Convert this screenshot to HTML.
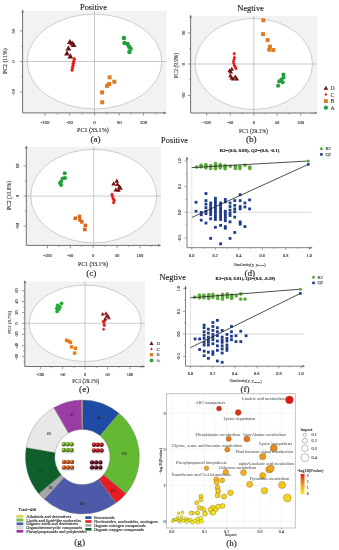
<!DOCTYPE html><html><head><meta charset="utf-8"><style>html,body{margin:0;padding:0;background:#fff;}svg{display:block;will-change:transform;}</style></head><body>
<svg width="339" height="550" viewBox="0 0 339 550" font-family='"Liberation Serif", serif'>
<rect width="339" height="550" fill="#fff"/>
<text x="93.5" y="7.0" font-size="8.4" text-anchor="middle" dominant-baseline="central" fill="#222" stroke="#222" stroke-width="0.140" >Positive</text>
<rect x="22.6" y="10.8" width="143.8" height="102.10000000000001" fill="#f2f2f2"/>
<ellipse cx="94.5" cy="61.5" rx="67.3" ry="47.4" fill="#fff" stroke="#bdbdbd" stroke-width="0.75"/>
<line x1="94.5" y1="10.8" x2="94.5" y2="112.9" stroke="#a8a8a8" stroke-width="0.6"/>
<line x1="22.6" y1="61.5" x2="166.4" y2="61.5" stroke="#a8a8a8" stroke-width="0.6"/>
<line x1="22.6" y1="112.9" x2="22.6" y2="10.3" stroke="#707070" stroke-width="1.0"/>
<polygon points="21.3,12.600000000000001 23.900000000000002,12.600000000000001 22.6,9.600000000000001" fill="#707070"/>
<line x1="22.6" y1="112.9" x2="164.9" y2="112.9" stroke="#707070" stroke-width="1.0"/>
<polygon points="163.6,111.60000000000001 163.6,114.2 166.6,112.9" fill="#707070"/>
<line x1="19.8" y1="30.9" x2="22.6" y2="30.9" stroke="#707070" stroke-width="0.7"/>
<line x1="19.8" y1="61.5" x2="22.6" y2="61.5" stroke="#707070" stroke-width="0.7"/>
<line x1="19.8" y1="92.1" x2="22.6" y2="92.1" stroke="#707070" stroke-width="0.7"/>
<line x1="21.0" y1="46.2" x2="22.6" y2="46.2" stroke="#707070" stroke-width="0.6"/>
<line x1="21.0" y1="76.8" x2="22.6" y2="76.8" stroke="#707070" stroke-width="0.6"/>
<line x1="45" y1="112.9" x2="45" y2="115.7" stroke="#707070" stroke-width="0.7"/>
<line x1="69.6" y1="112.9" x2="69.6" y2="115.7" stroke="#707070" stroke-width="0.7"/>
<line x1="94.6" y1="112.9" x2="94.6" y2="115.7" stroke="#707070" stroke-width="0.7"/>
<line x1="119.2" y1="112.9" x2="119.2" y2="115.7" stroke="#707070" stroke-width="0.7"/>
<line x1="143.6" y1="112.9" x2="143.6" y2="115.7" stroke="#707070" stroke-width="0.7"/>
<line x1="57.3" y1="112.9" x2="57.3" y2="114.5" stroke="#707070" stroke-width="0.6"/>
<line x1="82.1" y1="112.9" x2="82.1" y2="114.5" stroke="#707070" stroke-width="0.6"/>
<line x1="106.9" y1="112.9" x2="106.9" y2="114.5" stroke="#707070" stroke-width="0.6"/>
<line x1="131.4" y1="112.9" x2="131.4" y2="114.5" stroke="#707070" stroke-width="0.6"/>
<line x1="155.8" y1="112.9" x2="155.8" y2="114.5" stroke="#707070" stroke-width="0.6"/>
<text x="13.8" y="30.9" font-size="5.0" text-anchor="middle" dominant-baseline="central" transform="rotate(-90 13.8 30.9)" fill="#333" stroke="#333" stroke-width="0.110" >50</text>
<text x="13.8" y="61.5" font-size="5.0" text-anchor="middle" dominant-baseline="central" transform="rotate(-90 13.8 61.5)" fill="#333" stroke="#333" stroke-width="0.110" >0</text>
<text x="13.8" y="92.1" font-size="5.0" text-anchor="middle" dominant-baseline="central" transform="rotate(-90 13.8 92.1)" fill="#333" stroke="#333" stroke-width="0.110" >-50</text>
<text x="45" y="122.2" font-size="5.0" text-anchor="middle" dominant-baseline="central" fill="#333" stroke="#333" stroke-width="0.110" >-100</text>
<text x="69.6" y="122.2" font-size="5.0" text-anchor="middle" dominant-baseline="central" fill="#333" stroke="#333" stroke-width="0.110" >-50</text>
<text x="94.6" y="122.2" font-size="5.0" text-anchor="middle" dominant-baseline="central" fill="#333" stroke="#333" stroke-width="0.110" >0</text>
<text x="119.2" y="122.2" font-size="5.0" text-anchor="middle" dominant-baseline="central" fill="#333" stroke="#333" stroke-width="0.110" >50</text>
<text x="143.6" y="122.2" font-size="5.0" text-anchor="middle" dominant-baseline="central" fill="#333" stroke="#333" stroke-width="0.110" >100</text>
<text x="5.2" y="61.2" font-size="5.75" text-anchor="middle" dominant-baseline="central" transform="rotate(-90 5.2 61.2)" fill="#333" stroke="#333" stroke-width="0.127" >PC2 (11%)</text>
<text x="92.9" y="129.6" font-size="6.07" text-anchor="middle" dominant-baseline="central" fill="#333" stroke="#333" stroke-width="0.134" >PC1 (33.1%)</text>
<text x="95.6" y="139.4" font-size="9.2" text-anchor="middle" dominant-baseline="central" fill="#222" stroke="#222" stroke-width="0.140" >(a)</text>
<polygon points="67.00,44.11 72.80,44.11 69.90,38.89" fill="#6d1111"/>
<polygon points="70.70,46.91 76.50,46.91 73.60,41.69" fill="#6d1111"/>
<polygon points="65.50,50.61 71.30,50.61 68.40,45.39" fill="#6d1111"/>
<polygon points="64.10,55.51 69.90,55.51 67.00,50.29" fill="#6d1111"/>
<polygon points="67.50,58.41 73.30,58.41 70.40,53.19" fill="#6d1111"/>
<polygon points="69.30,45.61 75.10,45.61 72.20,40.39" fill="#6d1111"/>
<polygon points="74.30,56.80 76.28,59.00 74.30,61.20 72.32,59.00" fill="#e41a1c"/>
<polygon points="73.80,59.10 75.78,61.30 73.80,63.50 71.82,61.30" fill="#e41a1c"/>
<polygon points="73.30,61.30 75.28,63.50 73.30,65.70 71.32,63.50" fill="#e41a1c"/>
<polygon points="73.00,63.40 74.98,65.60 73.00,67.80 71.02,65.60" fill="#e41a1c"/>
<polygon points="72.50,65.60 74.48,67.80 72.50,70.00 70.52,67.80" fill="#e41a1c"/>
<polygon points="72.10,67.90 74.08,70.10 72.10,72.30 70.12,70.10" fill="#e41a1c"/>
<rect x="107.60" y="75.30" width="4.0" height="4.0" fill="#e07a1f"/>
<rect x="112.30" y="79.70" width="4.0" height="4.0" fill="#e07a1f"/>
<rect x="107.20" y="82.00" width="4.0" height="4.0" fill="#e07a1f"/>
<rect x="105.00" y="83.80" width="4.0" height="4.0" fill="#e07a1f"/>
<rect x="100.10" y="90.40" width="4.0" height="4.0" fill="#e07a1f"/>
<rect x="100.20" y="100.30" width="4.0" height="4.0" fill="#e07a1f"/>
<circle cx="123.90" cy="37.90" r="2.25" fill="#22a03a"/>
<circle cx="124.50" cy="43.10" r="2.25" fill="#22a03a"/>
<circle cx="127.60" cy="44.10" r="2.25" fill="#22a03a"/>
<circle cx="129.10" cy="46.70" r="2.25" fill="#22a03a"/>
<circle cx="130.60" cy="48.70" r="2.25" fill="#22a03a"/>
<circle cx="129.40" cy="52.00" r="2.25" fill="#22a03a"/>
<text x="250.6" y="8.3" font-size="8.4" text-anchor="middle" dominant-baseline="central" fill="#222" stroke="#222" stroke-width="0.140" >Negtive</text>
<rect x="190.6" y="16" width="126.79999999999998" height="97" fill="#f2f2f2"/>
<ellipse cx="253.8" cy="64" rx="58.7" ry="45.5" fill="#fff" stroke="#bdbdbd" stroke-width="0.75"/>
<line x1="253.8" y1="16" x2="253.8" y2="113" stroke="#a8a8a8" stroke-width="0.6"/>
<line x1="190.6" y1="64" x2="317.4" y2="64" stroke="#a8a8a8" stroke-width="0.6"/>
<line x1="190.6" y1="113" x2="190.6" y2="15.5" stroke="#707070" stroke-width="1.0"/>
<polygon points="189.29999999999998,17.8 191.9,17.8 190.6,14.8" fill="#707070"/>
<line x1="190.6" y1="113" x2="315.9" y2="113" stroke="#707070" stroke-width="1.0"/>
<polygon points="314.59999999999997,111.7 314.59999999999997,114.3 317.59999999999997,113" fill="#707070"/>
<line x1="187.79999999999998" y1="33" x2="190.6" y2="33" stroke="#707070" stroke-width="0.7"/>
<line x1="187.79999999999998" y1="64" x2="190.6" y2="64" stroke="#707070" stroke-width="0.7"/>
<line x1="187.79999999999998" y1="95.4" x2="190.6" y2="95.4" stroke="#707070" stroke-width="0.7"/>
<line x1="189.0" y1="48.6" x2="190.6" y2="48.6" stroke="#707070" stroke-width="0.6"/>
<line x1="189.0" y1="79.6" x2="190.6" y2="79.6" stroke="#707070" stroke-width="0.6"/>
<line x1="206.7" y1="113" x2="206.7" y2="115.8" stroke="#707070" stroke-width="0.7"/>
<line x1="230.3" y1="113" x2="230.3" y2="115.8" stroke="#707070" stroke-width="0.7"/>
<line x1="253.9" y1="113" x2="253.9" y2="115.8" stroke="#707070" stroke-width="0.7"/>
<line x1="277" y1="113" x2="277" y2="115.8" stroke="#707070" stroke-width="0.7"/>
<line x1="300.7" y1="113" x2="300.7" y2="115.8" stroke="#707070" stroke-width="0.7"/>
<line x1="218.5" y1="113" x2="218.5" y2="114.6" stroke="#707070" stroke-width="0.6"/>
<line x1="242.1" y1="113" x2="242.1" y2="114.6" stroke="#707070" stroke-width="0.6"/>
<line x1="265.5" y1="113" x2="265.5" y2="114.6" stroke="#707070" stroke-width="0.6"/>
<line x1="288.9" y1="113" x2="288.9" y2="114.6" stroke="#707070" stroke-width="0.6"/>
<line x1="312" y1="113" x2="312" y2="114.6" stroke="#707070" stroke-width="0.6"/>
<text x="183.4" y="33" font-size="4.6" text-anchor="middle" dominant-baseline="central" transform="rotate(-90 183.4 33)" fill="#333" stroke="#333" stroke-width="0.101" >50</text>
<text x="183.4" y="64" font-size="4.6" text-anchor="middle" dominant-baseline="central" transform="rotate(-90 183.4 64)" fill="#333" stroke="#333" stroke-width="0.101" >0</text>
<text x="183.4" y="95.4" font-size="4.6" text-anchor="middle" dominant-baseline="central" transform="rotate(-90 183.4 95.4)" fill="#333" stroke="#333" stroke-width="0.101" >-50</text>
<text x="206.7" y="122.5" font-size="4.6" text-anchor="middle" dominant-baseline="central" fill="#333" stroke="#333" stroke-width="0.101" >-100</text>
<text x="230.3" y="122.5" font-size="4.6" text-anchor="middle" dominant-baseline="central" fill="#333" stroke="#333" stroke-width="0.101" >-50</text>
<text x="253.9" y="122.5" font-size="4.6" text-anchor="middle" dominant-baseline="central" fill="#333" stroke="#333" stroke-width="0.101" >0</text>
<text x="277" y="122.5" font-size="4.6" text-anchor="middle" dominant-baseline="central" fill="#333" stroke="#333" stroke-width="0.101" >50</text>
<text x="300.7" y="122.5" font-size="4.6" text-anchor="middle" dominant-baseline="central" fill="#333" stroke="#333" stroke-width="0.101" >100</text>
<text x="176.4" y="65.5" font-size="5.3" text-anchor="middle" dominant-baseline="central" transform="rotate(-90 176.4 65.5)" fill="#333" stroke="#333" stroke-width="0.117" >PC2 (9.9%)</text>
<text x="253.5" y="130.6" font-size="5.55" text-anchor="middle" dominant-baseline="central" fill="#333" stroke="#333" stroke-width="0.122" >PC1 (29.1%)</text>
<text x="251.3" y="138.9" font-size="9.2" text-anchor="middle" dominant-baseline="central" fill="#222" stroke="#222" stroke-width="0.140" >(b)</text>
<rect x="261.35" y="18.35" width="3.9" height="3.9" fill="#e07a1f"/>
<rect x="261.05" y="32.15" width="3.9" height="3.9" fill="#e07a1f"/>
<rect x="265.75" y="38.05" width="3.9" height="3.9" fill="#e07a1f"/>
<rect x="268.05" y="44.65" width="3.9" height="3.9" fill="#e07a1f"/>
<rect x="267.25" y="47.65" width="3.9" height="3.9" fill="#e07a1f"/>
<rect x="271.35" y="48.05" width="3.9" height="3.9" fill="#e07a1f"/>
<circle cx="283.40" cy="74.60" r="2.05" fill="#22a03a"/>
<circle cx="283.60" cy="77.40" r="2.05" fill="#22a03a"/>
<circle cx="281.40" cy="79.60" r="2.05" fill="#22a03a"/>
<circle cx="279.20" cy="81.40" r="2.05" fill="#22a03a"/>
<circle cx="282.70" cy="82.30" r="2.05" fill="#22a03a"/>
<circle cx="278.10" cy="85.80" r="2.05" fill="#22a03a"/>
<polygon points="234.20,51.85 235.95,53.80 234.20,55.75 232.44,53.80" fill="#e41a1c"/>
<polygon points="234.40,55.65 236.16,57.60 234.40,59.55 232.65,57.60" fill="#e41a1c"/>
<polygon points="234.00,57.65 235.75,59.60 234.00,61.55 232.25,59.60" fill="#e41a1c"/>
<polygon points="233.40,59.65 235.16,61.60 233.40,63.55 231.65,61.60" fill="#e41a1c"/>
<polygon points="233.80,61.65 235.56,63.60 233.80,65.55 232.05,63.60" fill="#e41a1c"/>
<polygon points="234.40,63.45 236.16,65.40 234.40,67.35 232.65,65.40" fill="#e41a1c"/>
<polygon points="235.20,65.05 236.95,67.00 235.20,68.95 233.44,67.00" fill="#e41a1c"/>
<polygon points="236.00,66.65 237.75,68.60 236.00,70.55 234.25,68.60" fill="#e41a1c"/>
<polygon points="227.40,72.18 231.80,72.18 229.60,68.22" fill="#6d1111"/>
<polygon points="229.60,70.78 234.00,70.78 231.80,66.82" fill="#6d1111"/>
<polygon points="228.60,73.38 233.00,73.38 230.80,69.42" fill="#6d1111"/>
<polygon points="228.20,77.18 232.60,77.18 230.40,73.22" fill="#6d1111"/>
<polygon points="229.40,79.58 233.80,79.58 231.60,75.62" fill="#6d1111"/>
<polygon points="231.00,80.38 235.40,80.38 233.20,76.42" fill="#6d1111"/>
<polygon points="233.20,78.58 237.60,78.58 235.40,74.62" fill="#6d1111"/>
<polygon points="234.60,80.58 239.00,80.58 236.80,76.62" fill="#6d1111"/>
<polygon points="323.60,89.87 328.20,89.87 325.90,85.73" fill="#6d1111"/>
<polygon points="325.90,92.90 327.34,94.50 325.90,96.10 324.46,94.50" fill="#e41a1c"/>
<rect x="324.00" y="99.20" width="3.8" height="3.8" fill="#e07a1f"/>
<circle cx="325.90" cy="107.70" r="2.10" fill="#22a03a"/>
<text x="330.5" y="87.8" font-size="5.8" text-anchor="start" dominant-baseline="central" fill="#444" stroke="#444" stroke-width="0.128" >D</text>
<text x="330.5" y="94.5" font-size="5.8" text-anchor="start" dominant-baseline="central" fill="#444" stroke="#444" stroke-width="0.128" >C</text>
<text x="330.5" y="101.1" font-size="5.8" text-anchor="start" dominant-baseline="central" fill="#444" stroke="#444" stroke-width="0.128" >B</text>
<text x="330.5" y="107.7" font-size="5.8" text-anchor="start" dominant-baseline="central" fill="#444" stroke="#444" stroke-width="0.128" >A</text>
<rect x="26.3" y="146.8" width="134.7" height="98.6" fill="#f2f2f2"/>
<ellipse cx="93.7" cy="196.1" rx="63.0" ry="46.8" fill="#fff" stroke="#bdbdbd" stroke-width="0.75"/>
<line x1="93.7" y1="146.8" x2="93.7" y2="245.4" stroke="#a8a8a8" stroke-width="0.6"/>
<line x1="26.3" y1="196.1" x2="161" y2="196.1" stroke="#a8a8a8" stroke-width="0.6"/>
<line x1="26.3" y1="245.4" x2="26.3" y2="146.3" stroke="#707070" stroke-width="1.0"/>
<polygon points="25.0,148.60000000000002 27.6,148.60000000000002 26.3,145.60000000000002" fill="#707070"/>
<line x1="26.3" y1="245.4" x2="159.5" y2="245.4" stroke="#707070" stroke-width="1.0"/>
<polygon points="158.2,244.1 158.2,246.70000000000002 161.2,245.4" fill="#707070"/>
<line x1="23.5" y1="166" x2="26.3" y2="166" stroke="#707070" stroke-width="0.7"/>
<line x1="23.5" y1="196.1" x2="26.3" y2="196.1" stroke="#707070" stroke-width="0.7"/>
<line x1="23.5" y1="226" x2="26.3" y2="226" stroke="#707070" stroke-width="0.7"/>
<line x1="24.7" y1="181" x2="26.3" y2="181" stroke="#707070" stroke-width="0.6"/>
<line x1="24.7" y1="211.3" x2="26.3" y2="211.3" stroke="#707070" stroke-width="0.6"/>
<line x1="47.5" y1="245.4" x2="47.5" y2="248.20000000000002" stroke="#707070" stroke-width="0.7"/>
<line x1="70.3" y1="245.4" x2="70.3" y2="248.20000000000002" stroke="#707070" stroke-width="0.7"/>
<line x1="93.1" y1="245.4" x2="93.1" y2="248.20000000000002" stroke="#707070" stroke-width="0.7"/>
<line x1="117.1" y1="245.4" x2="117.1" y2="248.20000000000002" stroke="#707070" stroke-width="0.7"/>
<line x1="139.9" y1="245.4" x2="139.9" y2="248.20000000000002" stroke="#707070" stroke-width="0.7"/>
<line x1="58.9" y1="245.4" x2="58.9" y2="247.0" stroke="#707070" stroke-width="0.6"/>
<line x1="81.7" y1="245.4" x2="81.7" y2="247.0" stroke="#707070" stroke-width="0.6"/>
<line x1="105.1" y1="245.4" x2="105.1" y2="247.0" stroke="#707070" stroke-width="0.6"/>
<line x1="128.5" y1="245.4" x2="128.5" y2="247.0" stroke="#707070" stroke-width="0.6"/>
<line x1="151.3" y1="245.4" x2="151.3" y2="247.0" stroke="#707070" stroke-width="0.6"/>
<text x="17.5" y="166" font-size="4.7" text-anchor="middle" dominant-baseline="central" transform="rotate(-90 17.5 166)" fill="#333" stroke="#333" stroke-width="0.103" >50</text>
<text x="17.5" y="196.1" font-size="4.7" text-anchor="middle" dominant-baseline="central" transform="rotate(-90 17.5 196.1)" fill="#333" stroke="#333" stroke-width="0.103" >0</text>
<text x="17.5" y="226" font-size="4.7" text-anchor="middle" dominant-baseline="central" transform="rotate(-90 17.5 226)" fill="#333" stroke="#333" stroke-width="0.103" >-50</text>
<text x="47.5" y="255.5" font-size="4.7" text-anchor="middle" dominant-baseline="central" fill="#333" stroke="#333" stroke-width="0.103" >-100</text>
<text x="70.3" y="255.5" font-size="4.7" text-anchor="middle" dominant-baseline="central" fill="#333" stroke="#333" stroke-width="0.103" >-50</text>
<text x="93.1" y="255.5" font-size="4.7" text-anchor="middle" dominant-baseline="central" fill="#333" stroke="#333" stroke-width="0.103" >0</text>
<text x="117.1" y="255.5" font-size="4.7" text-anchor="middle" dominant-baseline="central" fill="#333" stroke="#333" stroke-width="0.103" >50</text>
<text x="139.9" y="255.5" font-size="4.7" text-anchor="middle" dominant-baseline="central" fill="#333" stroke="#333" stroke-width="0.103" >100</text>
<text x="8.7" y="195.5" font-size="5.55" text-anchor="middle" dominant-baseline="central" transform="rotate(-90 8.7 195.5)" fill="#333" stroke="#333" stroke-width="0.122" >PC2 (10.9%)</text>
<text x="93.1" y="263.9" font-size="5.82" text-anchor="middle" dominant-baseline="central" fill="#333" stroke="#333" stroke-width="0.128" >PC1 (33.1%)</text>
<text x="91.3" y="273.2" font-size="9.2" text-anchor="middle" dominant-baseline="central" fill="#222" stroke="#222" stroke-width="0.140" >(c)</text>
<circle cx="64.70" cy="173.30" r="2.00" fill="#22a03a"/>
<circle cx="65.00" cy="178.00" r="2.00" fill="#22a03a"/>
<circle cx="62.50" cy="178.40" r="2.00" fill="#22a03a"/>
<circle cx="61.10" cy="181.40" r="2.00" fill="#22a03a"/>
<circle cx="60.00" cy="182.90" r="2.00" fill="#22a03a"/>
<circle cx="61.10" cy="185.10" r="2.00" fill="#22a03a"/>
<polygon points="114.50,182.67 119.10,182.67 116.80,178.53" fill="#7a1212"/>
<polygon points="111.30,185.47 115.90,185.47 113.60,181.33" fill="#7a1212"/>
<polygon points="115.10,186.07 119.70,186.07 117.40,181.93" fill="#7a1212"/>
<polygon points="117.10,188.47 121.70,188.47 119.40,184.33" fill="#7a1212"/>
<polygon points="118.10,189.67 122.70,189.67 120.40,185.53" fill="#7a1212"/>
<polygon points="113.50,191.47 118.10,191.47 115.80,187.33" fill="#7a1212"/>
<polygon points="116.10,191.67 120.70,191.67 118.40,187.53" fill="#7a1212"/>
<polygon points="112.00,192.50 113.89,194.60 112.00,196.70 110.11,194.60" fill="#e8201c"/>
<polygon points="112.60,194.50 114.49,196.60 112.60,198.70 110.71,196.60" fill="#e8201c"/>
<polygon points="113.20,196.70 115.09,198.80 113.20,200.90 111.31,198.80" fill="#e8201c"/>
<polygon points="114.20,198.30 116.09,200.40 114.20,202.50 112.31,200.40" fill="#e8201c"/>
<polygon points="113.60,200.50 115.49,202.60 113.60,204.70 111.71,202.60" fill="#e8201c"/>
<rect x="73.50" y="216.50" width="3.6" height="3.6" fill="#d9691c"/>
<rect x="77.70" y="214.70" width="3.6" height="3.6" fill="#d9691c"/>
<rect x="78.20" y="218.20" width="3.6" height="3.6" fill="#d9691c"/>
<rect x="80.00" y="220.00" width="3.6" height="3.6" fill="#d9691c"/>
<rect x="83.60" y="223.60" width="3.6" height="3.6" fill="#d9691c"/>
<rect x="83.00" y="227.70" width="3.6" height="3.6" fill="#d9691c"/>
<rect x="24.8" y="281.4" width="120.2" height="85.10000000000002" fill="#f2f2f2"/>
<ellipse cx="85.1" cy="323.3" rx="56" ry="38.2" fill="#fff" stroke="#bdbdbd" stroke-width="0.75"/>
<line x1="85.1" y1="281.4" x2="85.1" y2="366.5" stroke="#a8a8a8" stroke-width="0.6"/>
<line x1="24.8" y1="323.3" x2="145" y2="323.3" stroke="#a8a8a8" stroke-width="0.6"/>
<line x1="24.8" y1="366.5" x2="24.8" y2="280.9" stroke="#707070" stroke-width="1.0"/>
<polygon points="23.5,283.2 26.1,283.2 24.8,280.2" fill="#707070"/>
<line x1="24.8" y1="366.5" x2="143.5" y2="366.5" stroke="#707070" stroke-width="1.0"/>
<polygon points="142.2,365.2 142.2,367.8 145.2,366.5" fill="#707070"/>
<line x1="22.0" y1="290.6" x2="24.8" y2="290.6" stroke="#707070" stroke-width="0.7"/>
<line x1="22.0" y1="301.5" x2="24.8" y2="301.5" stroke="#707070" stroke-width="0.7"/>
<line x1="22.0" y1="312.5" x2="24.8" y2="312.5" stroke="#707070" stroke-width="0.7"/>
<line x1="22.0" y1="323.3" x2="24.8" y2="323.3" stroke="#707070" stroke-width="0.7"/>
<line x1="22.0" y1="334.2" x2="24.8" y2="334.2" stroke="#707070" stroke-width="0.7"/>
<line x1="22.0" y1="345.7" x2="24.8" y2="345.7" stroke="#707070" stroke-width="0.7"/>
<line x1="22.0" y1="356.6" x2="24.8" y2="356.6" stroke="#707070" stroke-width="0.7"/>
<line x1="23.2" y1="296" x2="24.8" y2="296" stroke="#707070" stroke-width="0.6"/>
<line x1="23.2" y1="307" x2="24.8" y2="307" stroke="#707070" stroke-width="0.6"/>
<line x1="23.2" y1="317.9" x2="24.8" y2="317.9" stroke="#707070" stroke-width="0.6"/>
<line x1="23.2" y1="328.7" x2="24.8" y2="328.7" stroke="#707070" stroke-width="0.6"/>
<line x1="23.2" y1="339.9" x2="24.8" y2="339.9" stroke="#707070" stroke-width="0.6"/>
<line x1="23.2" y1="351.1" x2="24.8" y2="351.1" stroke="#707070" stroke-width="0.6"/>
<line x1="23.2" y1="362" x2="24.8" y2="362" stroke="#707070" stroke-width="0.6"/>
<line x1="40.3" y1="366.5" x2="40.3" y2="369.3" stroke="#707070" stroke-width="0.7"/>
<line x1="62.6" y1="366.5" x2="62.6" y2="369.3" stroke="#707070" stroke-width="0.7"/>
<line x1="85.2" y1="366.5" x2="85.2" y2="369.3" stroke="#707070" stroke-width="0.7"/>
<line x1="107.6" y1="366.5" x2="107.6" y2="369.3" stroke="#707070" stroke-width="0.7"/>
<line x1="130" y1="366.5" x2="130" y2="369.3" stroke="#707070" stroke-width="0.7"/>
<line x1="51.4" y1="366.5" x2="51.4" y2="368.1" stroke="#707070" stroke-width="0.6"/>
<line x1="73.9" y1="366.5" x2="73.9" y2="368.1" stroke="#707070" stroke-width="0.6"/>
<line x1="96.4" y1="366.5" x2="96.4" y2="368.1" stroke="#707070" stroke-width="0.6"/>
<line x1="118.8" y1="366.5" x2="118.8" y2="368.1" stroke="#707070" stroke-width="0.6"/>
<line x1="141" y1="366.5" x2="141" y2="368.1" stroke="#707070" stroke-width="0.6"/>
<text x="16.8" y="290.6" font-size="4.3" text-anchor="middle" dominant-baseline="central" transform="rotate(-90 16.8 290.6)" fill="#333" stroke="#333" stroke-width="0.095" >60</text>
<text x="16.8" y="301.5" font-size="4.3" text-anchor="middle" dominant-baseline="central" transform="rotate(-90 16.8 301.5)" fill="#333" stroke="#333" stroke-width="0.095" >40</text>
<text x="16.8" y="312.5" font-size="4.3" text-anchor="middle" dominant-baseline="central" transform="rotate(-90 16.8 312.5)" fill="#333" stroke="#333" stroke-width="0.095" >20</text>
<text x="16.8" y="323.3" font-size="4.3" text-anchor="middle" dominant-baseline="central" transform="rotate(-90 16.8 323.3)" fill="#333" stroke="#333" stroke-width="0.095" >0</text>
<text x="16.8" y="334.2" font-size="4.3" text-anchor="middle" dominant-baseline="central" transform="rotate(-90 16.8 334.2)" fill="#333" stroke="#333" stroke-width="0.095" >-20</text>
<text x="16.8" y="345.7" font-size="4.3" text-anchor="middle" dominant-baseline="central" transform="rotate(-90 16.8 345.7)" fill="#333" stroke="#333" stroke-width="0.095" >-40</text>
<text x="16.8" y="356.6" font-size="4.3" text-anchor="middle" dominant-baseline="central" transform="rotate(-90 16.8 356.6)" fill="#333" stroke="#333" stroke-width="0.095" >-60</text>
<text x="40.3" y="374.5" font-size="4.3" text-anchor="middle" dominant-baseline="central" fill="#333" stroke="#333" stroke-width="0.095" >-100</text>
<text x="62.6" y="374.5" font-size="4.3" text-anchor="middle" dominant-baseline="central" fill="#333" stroke="#333" stroke-width="0.095" >-50</text>
<text x="85.2" y="374.5" font-size="4.3" text-anchor="middle" dominant-baseline="central" fill="#333" stroke="#333" stroke-width="0.095" >0</text>
<text x="107.6" y="374.5" font-size="4.3" text-anchor="middle" dominant-baseline="central" fill="#333" stroke="#333" stroke-width="0.095" >50</text>
<text x="130" y="374.5" font-size="4.3" text-anchor="middle" dominant-baseline="central" fill="#333" stroke="#333" stroke-width="0.095" >100</text>
<text x="10.0" y="322.3" font-size="4.85" text-anchor="middle" dominant-baseline="central" transform="rotate(-90 10.0 322.3)" fill="#333" stroke="#333" stroke-width="0.107" >PC2 (9.7%)</text>
<text x="85.8" y="381.0" font-size="5.15" text-anchor="middle" dominant-baseline="central" fill="#333" stroke="#333" stroke-width="0.113" >PC1 (29.1%)</text>
<text x="84.2" y="388.8" font-size="9.2" text-anchor="middle" dominant-baseline="central" fill="#222" stroke="#222" stroke-width="0.140" >(e)</text>
<circle cx="61.50" cy="303.30" r="1.85" fill="#1fae33"/>
<circle cx="57.70" cy="305.30" r="1.85" fill="#1fae33"/>
<circle cx="60.00" cy="306.80" r="1.85" fill="#1fae33"/>
<circle cx="56.80" cy="308.30" r="1.85" fill="#1fae33"/>
<circle cx="58.80" cy="309.20" r="1.85" fill="#1fae33"/>
<circle cx="57.10" cy="311.50" r="1.85" fill="#1fae33"/>
<polygon points="100.75,315.56 104.65,315.56 102.70,312.05" fill="#8a1a1a"/>
<polygon points="103.95,314.75 107.85,314.75 105.90,311.25" fill="#8a1a1a"/>
<polygon points="105.75,317.06 109.65,317.06 107.70,313.55" fill="#8a1a1a"/>
<polygon points="106.95,319.15 110.85,319.15 108.90,315.64" fill="#8a1a1a"/>
<polygon points="103.35,320.36 107.25,320.36 105.30,316.85" fill="#8a1a1a"/>
<polygon points="102.75,321.45 106.65,321.45 104.70,317.94" fill="#8a1a1a"/>
<polygon points="104.55,317.75 108.45,317.75 106.50,314.25" fill="#8a1a1a"/>
<polygon points="103.00,319.80 104.53,321.50 103.00,323.20 101.47,321.50" fill="#e41a1c"/>
<polygon points="104.10,321.00 105.63,322.70 104.10,324.40 102.57,322.70" fill="#e41a1c"/>
<polygon points="103.80,323.30 105.33,325.00 103.80,326.70 102.27,325.00" fill="#e41a1c"/>
<polygon points="104.70,323.70 106.23,325.40 104.70,327.10 103.17,325.40" fill="#e41a1c"/>
<polygon points="103.60,327.50 105.13,329.20 103.60,330.90 102.07,329.20" fill="#e41a1c"/>
<rect x="64.90" y="338.60" width="3.4" height="3.4" fill="#f07a10"/>
<rect x="67.10" y="339.50" width="3.4" height="3.4" fill="#f07a10"/>
<rect x="68.70" y="340.80" width="3.4" height="3.4" fill="#f07a10"/>
<rect x="69.80" y="345.30" width="3.4" height="3.4" fill="#f07a10"/>
<rect x="73.80" y="346.60" width="3.4" height="3.4" fill="#f07a10"/>
<rect x="72.90" y="351.40" width="3.4" height="3.4" fill="#f07a10"/>
<polygon points="149.48,344.92 153.52,344.92 151.50,341.28" fill="#6d1111"/>
<polygon points="151.50,347.59 152.77,349.00 151.50,350.41 150.23,349.00" fill="#e41a1c"/>
<rect x="149.83" y="353.03" width="3.344" height="3.344" fill="#e07a1f"/>
<circle cx="151.50" cy="360.40" r="1.85" fill="#22a03a"/>
<text x="156.6" y="343.1" font-size="5.0" text-anchor="start" dominant-baseline="central" fill="#444" stroke="#444" stroke-width="0.110" >D</text>
<text x="156.6" y="349.0" font-size="5.0" text-anchor="start" dominant-baseline="central" fill="#444" stroke="#444" stroke-width="0.110" >C</text>
<text x="156.6" y="354.7" font-size="5.0" text-anchor="start" dominant-baseline="central" fill="#444" stroke="#444" stroke-width="0.110" >B</text>
<text x="156.6" y="360.4" font-size="5.0" text-anchor="start" dominant-baseline="central" fill="#444" stroke="#444" stroke-width="0.110" >A</text>
<line x1="191.8" y1="157.8" x2="191.8" y2="247.7" stroke="#c8c8c8" stroke-width="0.5"/>
<line x1="187" y1="212.2" x2="311.5" y2="212.2" stroke="#b8b8b8" stroke-width="0.5"/>
<line x1="187" y1="247.7" x2="187" y2="157.3" stroke="#707070" stroke-width="0.9"/>
<polygon points="185.7,159.60000000000002 188.3,159.60000000000002 187,156.60000000000002" fill="#707070"/>
<line x1="187" y1="247.7" x2="311.5" y2="247.7" stroke="#707070" stroke-width="0.9"/>
<polygon points="309.7,246.39999999999998 309.7,249.0 312.7,247.7" fill="#707070"/>
<line x1="184.5" y1="161" x2="187" y2="161" stroke="#707070" stroke-width="0.6"/>
<text x="179.7" y="161" font-size="4.1" text-anchor="middle" dominant-baseline="central" transform="rotate(-90 179.7 161)" fill="#333" stroke="#333" stroke-width="0.090" >1.0</text>
<line x1="184.5" y1="186.5" x2="187" y2="186.5" stroke="#707070" stroke-width="0.6"/>
<text x="179.7" y="186.5" font-size="4.1" text-anchor="middle" dominant-baseline="central" transform="rotate(-90 179.7 186.5)" fill="#333" stroke="#333" stroke-width="0.090" >0.5</text>
<line x1="184.5" y1="212.2" x2="187" y2="212.2" stroke="#707070" stroke-width="0.6"/>
<text x="179.7" y="212.2" font-size="4.1" text-anchor="middle" dominant-baseline="central" transform="rotate(-90 179.7 212.2)" fill="#333" stroke="#333" stroke-width="0.090" >0.0</text>
<line x1="184.5" y1="237.9" x2="187" y2="237.9" stroke="#707070" stroke-width="0.6"/>
<text x="179.7" y="237.9" font-size="4.1" text-anchor="middle" dominant-baseline="central" transform="rotate(-90 179.7 237.9)" fill="#333" stroke="#333" stroke-width="0.090" >-0.5</text>
<line x1="185.5" y1="173.75" x2="187" y2="173.75" stroke="#707070" stroke-width="0.5"/>
<line x1="185.5" y1="199.35" x2="187" y2="199.35" stroke="#707070" stroke-width="0.5"/>
<line x1="185.5" y1="225.05" x2="187" y2="225.05" stroke="#707070" stroke-width="0.5"/>
<line x1="191.8" y1="247.7" x2="191.8" y2="249.89999999999998" stroke="#707070" stroke-width="0.6"/>
<text x="191.8" y="255.6" font-size="4.3" text-anchor="middle" dominant-baseline="central" fill="#222" stroke="#222" stroke-width="0.095" >0.0</text>
<line x1="203.55" y1="247.7" x2="203.55" y2="249.0" stroke="#707070" stroke-width="0.5"/>
<line x1="215.3" y1="247.7" x2="215.3" y2="249.89999999999998" stroke="#707070" stroke-width="0.6"/>
<text x="215.3" y="255.6" font-size="4.3" text-anchor="middle" dominant-baseline="central" fill="#222" stroke="#222" stroke-width="0.095" >0.2</text>
<line x1="227.05" y1="247.7" x2="227.05" y2="249.0" stroke="#707070" stroke-width="0.5"/>
<line x1="238.8" y1="247.7" x2="238.8" y2="249.89999999999998" stroke="#707070" stroke-width="0.6"/>
<text x="238.8" y="255.6" font-size="4.3" text-anchor="middle" dominant-baseline="central" fill="#222" stroke="#222" stroke-width="0.095" >0.4</text>
<line x1="250.55" y1="247.7" x2="250.55" y2="249.0" stroke="#707070" stroke-width="0.5"/>
<line x1="262.3" y1="247.7" x2="262.3" y2="249.89999999999998" stroke="#707070" stroke-width="0.6"/>
<text x="262.3" y="255.6" font-size="4.3" text-anchor="middle" dominant-baseline="central" fill="#222" stroke="#222" stroke-width="0.095" >0.6</text>
<line x1="274.05" y1="247.7" x2="274.05" y2="249.0" stroke="#707070" stroke-width="0.5"/>
<line x1="285.8" y1="247.7" x2="285.8" y2="249.89999999999998" stroke="#707070" stroke-width="0.6"/>
<text x="285.8" y="255.6" font-size="4.3" text-anchor="middle" dominant-baseline="central" fill="#222" stroke="#222" stroke-width="0.095" >0.8</text>
<line x1="297.55" y1="247.7" x2="297.55" y2="249.0" stroke="#707070" stroke-width="0.5"/>
<line x1="309.3" y1="247.7" x2="309.3" y2="249.89999999999998" stroke="#707070" stroke-width="0.6"/>
<text x="309.3" y="255.6" font-size="4.3" text-anchor="middle" dominant-baseline="central" fill="#222" stroke="#222" stroke-width="0.095" >1.0</text>
<circle cx="196.70" cy="167.10" r="1.60" fill="#5aae35" stroke="#3f8a22" stroke-width="0.3"/>
<circle cx="201.10" cy="165.20" r="1.60" fill="#5aae35" stroke="#3f8a22" stroke-width="0.3"/>
<circle cx="201.10" cy="166.80" r="1.60" fill="#5aae35" stroke="#3f8a22" stroke-width="0.3"/>
<circle cx="205.90" cy="164.60" r="1.60" fill="#5aae35" stroke="#3f8a22" stroke-width="0.3"/>
<circle cx="205.90" cy="166.20" r="1.60" fill="#5aae35" stroke="#3f8a22" stroke-width="0.3"/>
<circle cx="205.90" cy="167.80" r="1.60" fill="#5aae35" stroke="#3f8a22" stroke-width="0.3"/>
<circle cx="210.70" cy="165.60" r="1.60" fill="#5aae35" stroke="#3f8a22" stroke-width="0.3"/>
<circle cx="210.70" cy="168.40" r="1.60" fill="#5aae35" stroke="#3f8a22" stroke-width="0.3"/>
<circle cx="215.50" cy="163.60" r="1.60" fill="#5aae35" stroke="#3f8a22" stroke-width="0.3"/>
<circle cx="215.50" cy="165.30" r="1.60" fill="#5aae35" stroke="#3f8a22" stroke-width="0.3"/>
<circle cx="215.50" cy="167.00" r="1.60" fill="#5aae35" stroke="#3f8a22" stroke-width="0.3"/>
<circle cx="215.50" cy="168.70" r="1.60" fill="#5aae35" stroke="#3f8a22" stroke-width="0.3"/>
<circle cx="220.30" cy="164.60" r="1.60" fill="#5aae35" stroke="#3f8a22" stroke-width="0.3"/>
<circle cx="220.30" cy="166.20" r="1.60" fill="#5aae35" stroke="#3f8a22" stroke-width="0.3"/>
<circle cx="220.30" cy="167.80" r="1.60" fill="#5aae35" stroke="#3f8a22" stroke-width="0.3"/>
<circle cx="225.10" cy="165.60" r="1.60" fill="#5aae35" stroke="#3f8a22" stroke-width="0.3"/>
<circle cx="225.10" cy="167.15" r="1.60" fill="#5aae35" stroke="#3f8a22" stroke-width="0.3"/>
<circle cx="225.10" cy="168.70" r="1.60" fill="#5aae35" stroke="#3f8a22" stroke-width="0.3"/>
<circle cx="230.30" cy="166.20" r="1.60" fill="#5aae35" stroke="#3f8a22" stroke-width="0.3"/>
<circle cx="235.40" cy="166.20" r="1.60" fill="#5aae35" stroke="#3f8a22" stroke-width="0.3"/>
<circle cx="235.40" cy="168.40" r="1.60" fill="#5aae35" stroke="#3f8a22" stroke-width="0.3"/>
<circle cx="239.90" cy="166.60" r="1.60" fill="#5aae35" stroke="#3f8a22" stroke-width="0.3"/>
<circle cx="239.90" cy="168.40" r="1.60" fill="#5aae35" stroke="#3f8a22" stroke-width="0.3"/>
<circle cx="245.00" cy="165.20" r="1.60" fill="#5aae35" stroke="#3f8a22" stroke-width="0.3"/>
<circle cx="249.80" cy="167.10" r="1.60" fill="#5aae35" stroke="#3f8a22" stroke-width="0.3"/>
<circle cx="249.80" cy="168.40" r="1.60" fill="#5aae35" stroke="#3f8a22" stroke-width="0.3"/>
<rect x="194.65" y="200.87" width="2.8" height="2.8" fill="#1f3c8c"/>
<rect x="194.65" y="209.84" width="2.8" height="2.8" fill="#1f3c8c"/>
<rect x="199.84" y="211.02" width="2.8" height="2.8" fill="#1f3c8c"/>
<rect x="199.84" y="213.38" width="2.8" height="2.8" fill="#1f3c8c"/>
<rect x="199.84" y="218.81" width="2.8" height="2.8" fill="#1f3c8c"/>
<rect x="204.56" y="192.14" width="2.8" height="2.8" fill="#1f3c8c"/>
<rect x="204.56" y="199.22" width="2.8" height="2.8" fill="#1f3c8c"/>
<rect x="204.56" y="202.76" width="2.8" height="2.8" fill="#1f3c8c"/>
<rect x="204.56" y="206.30" width="2.8" height="2.8" fill="#1f3c8c"/>
<rect x="204.56" y="209.84" width="2.8" height="2.8" fill="#1f3c8c"/>
<rect x="204.56" y="212.20" width="2.8" height="2.8" fill="#1f3c8c"/>
<rect x="204.56" y="221.64" width="2.8" height="2.8" fill="#1f3c8c"/>
<rect x="209.28" y="201.58" width="2.8" height="2.8" fill="#1f3c8c"/>
<rect x="209.28" y="203.94" width="2.8" height="2.8" fill="#1f3c8c"/>
<rect x="209.28" y="206.30" width="2.8" height="2.8" fill="#1f3c8c"/>
<rect x="209.28" y="208.66" width="2.8" height="2.8" fill="#1f3c8c"/>
<rect x="209.28" y="211.02" width="2.8" height="2.8" fill="#1f3c8c"/>
<rect x="209.28" y="213.38" width="2.8" height="2.8" fill="#1f3c8c"/>
<rect x="209.28" y="217.39" width="2.8" height="2.8" fill="#1f3c8c"/>
<rect x="209.28" y="236.98" width="2.8" height="2.8" fill="#1f3c8c"/>
<rect x="214.00" y="196.86" width="2.8" height="2.8" fill="#1f3c8c"/>
<rect x="214.00" y="199.22" width="2.8" height="2.8" fill="#1f3c8c"/>
<rect x="214.00" y="201.58" width="2.8" height="2.8" fill="#1f3c8c"/>
<rect x="214.00" y="203.94" width="2.8" height="2.8" fill="#1f3c8c"/>
<rect x="214.00" y="206.30" width="2.8" height="2.8" fill="#1f3c8c"/>
<rect x="214.00" y="208.66" width="2.8" height="2.8" fill="#1f3c8c"/>
<rect x="214.00" y="211.02" width="2.8" height="2.8" fill="#1f3c8c"/>
<rect x="214.00" y="213.38" width="2.8" height="2.8" fill="#1f3c8c"/>
<rect x="214.00" y="215.74" width="2.8" height="2.8" fill="#1f3c8c"/>
<rect x="214.00" y="218.10" width="2.8" height="2.8" fill="#1f3c8c"/>
<rect x="214.00" y="225.89" width="2.8" height="2.8" fill="#1f3c8c"/>
<rect x="219.19" y="201.58" width="2.8" height="2.8" fill="#1f3c8c"/>
<rect x="219.19" y="203.94" width="2.8" height="2.8" fill="#1f3c8c"/>
<rect x="219.19" y="206.30" width="2.8" height="2.8" fill="#1f3c8c"/>
<rect x="219.19" y="208.66" width="2.8" height="2.8" fill="#1f3c8c"/>
<rect x="219.19" y="211.02" width="2.8" height="2.8" fill="#1f3c8c"/>
<rect x="219.19" y="213.38" width="2.8" height="2.8" fill="#1f3c8c"/>
<rect x="219.19" y="215.74" width="2.8" height="2.8" fill="#1f3c8c"/>
<rect x="219.19" y="218.10" width="2.8" height="2.8" fill="#1f3c8c"/>
<rect x="219.19" y="224.00" width="2.8" height="2.8" fill="#1f3c8c"/>
<rect x="219.19" y="242.41" width="2.8" height="2.8" fill="#1f3c8c"/>
<rect x="223.91" y="198.04" width="2.8" height="2.8" fill="#1f3c8c"/>
<rect x="223.91" y="200.40" width="2.8" height="2.8" fill="#1f3c8c"/>
<rect x="223.91" y="209.84" width="2.8" height="2.8" fill="#1f3c8c"/>
<rect x="223.91" y="212.20" width="2.8" height="2.8" fill="#1f3c8c"/>
<rect x="223.91" y="214.56" width="2.8" height="2.8" fill="#1f3c8c"/>
<rect x="223.91" y="216.92" width="2.8" height="2.8" fill="#1f3c8c"/>
<rect x="223.91" y="219.28" width="2.8" height="2.8" fill="#1f3c8c"/>
<rect x="223.91" y="225.18" width="2.8" height="2.8" fill="#1f3c8c"/>
<rect x="223.91" y="226.83" width="2.8" height="2.8" fill="#1f3c8c"/>
<rect x="228.63" y="201.58" width="2.8" height="2.8" fill="#1f3c8c"/>
<rect x="228.63" y="205.12" width="2.8" height="2.8" fill="#1f3c8c"/>
<rect x="228.63" y="208.66" width="2.8" height="2.8" fill="#1f3c8c"/>
<rect x="228.63" y="211.73" width="2.8" height="2.8" fill="#1f3c8c"/>
<rect x="228.63" y="214.09" width="2.8" height="2.8" fill="#1f3c8c"/>
<rect x="228.63" y="220.46" width="2.8" height="2.8" fill="#1f3c8c"/>
<rect x="228.63" y="236.98" width="2.8" height="2.8" fill="#1f3c8c"/>
<rect x="233.35" y="199.22" width="2.8" height="2.8" fill="#1f3c8c"/>
<rect x="233.35" y="203.94" width="2.8" height="2.8" fill="#1f3c8c"/>
<rect x="233.35" y="207.48" width="2.8" height="2.8" fill="#1f3c8c"/>
<rect x="233.35" y="210.31" width="2.8" height="2.8" fill="#1f3c8c"/>
<rect x="233.35" y="215.74" width="2.8" height="2.8" fill="#1f3c8c"/>
<rect x="233.35" y="231.08" width="2.8" height="2.8" fill="#1f3c8c"/>
<rect x="238.78" y="193.32" width="2.8" height="2.8" fill="#1f3c8c"/>
<rect x="238.78" y="199.22" width="2.8" height="2.8" fill="#1f3c8c"/>
<rect x="238.78" y="205.12" width="2.8" height="2.8" fill="#1f3c8c"/>
<rect x="238.78" y="207.48" width="2.8" height="2.8" fill="#1f3c8c"/>
<rect x="238.78" y="220.46" width="2.8" height="2.8" fill="#1f3c8c"/>
<rect x="238.78" y="222.82" width="2.8" height="2.8" fill="#1f3c8c"/>
<rect x="243.50" y="201.58" width="2.8" height="2.8" fill="#1f3c8c"/>
<rect x="243.50" y="205.59" width="2.8" height="2.8" fill="#1f3c8c"/>
<rect x="243.50" y="225.18" width="2.8" height="2.8" fill="#1f3c8c"/>
<rect x="248.22" y="198.51" width="2.8" height="2.8" fill="#1f3c8c"/>
<rect x="248.22" y="207.48" width="2.8" height="2.8" fill="#1f3c8c"/>
<line x1="191.8" y1="167.6" x2="308.3" y2="161" stroke="#222" stroke-width="0.8"/>
<line x1="191.8" y1="217.5" x2="308.3" y2="164.4" stroke="#222" stroke-width="0.8"/>
<circle cx="308.30" cy="161.00" r="1.50" fill="#5aae35"/>
<rect x="307.00" y="163.10" width="2.6" height="2.6" fill="#1f3c8c"/>
<text x="174.6" y="140.3" font-size="8.4" text-anchor="middle" dominant-baseline="central" fill="#222" stroke="#222" stroke-width="0.140" >Positive</text>
<text x="249.5" y="150.3" font-size="4.85" text-anchor="middle" dominant-baseline="central" font-weight="bold" fill="#111" stroke="#111" stroke-width="0.107" >R2=(0.0, 0.88), Q2=(0.0, -0.1)</text>
<circle cx="321.40" cy="148.70" r="1.50" fill="#5aae35"/>
<rect x="320.10" y="153.10" width="2.6" height="2.6" fill="#1f3c8c"/>
<text x="325.4" y="148.7" font-size="4.6" text-anchor="start" dominant-baseline="central" fill="#222" stroke="#222" stroke-width="0.101" >R2</text>
<text x="325.4" y="154.4" font-size="4.6" text-anchor="start" dominant-baseline="central" fill="#222" stroke="#222" stroke-width="0.101" >Q2</text>
<text x="249.7" y="264.4" font-size="4.2" text-anchor="middle" dominant-baseline="central" fill="#333" stroke="#333" stroke-width="0.092" >Similarity(y, y<tspan font-size="2.9" font-weight="bold" dy="0.9">perm</tspan><tspan dy="-0.9">)</tspan></text>
<text x="249.8" y="272.7" font-size="9.2" text-anchor="middle" dominant-baseline="central" fill="#222" stroke="#222" stroke-width="0.140" >(d)</text>
<line x1="190.5" y1="287" x2="190.5" y2="366.2" stroke="#c8c8c8" stroke-width="0.5"/>
<line x1="185.5" y1="334" x2="304" y2="334" stroke="#b8b8b8" stroke-width="0.5"/>
<line x1="185.5" y1="366.2" x2="185.5" y2="286.5" stroke="#707070" stroke-width="0.9"/>
<polygon points="184.2,288.8 186.8,288.8 185.5,285.8" fill="#707070"/>
<line x1="185.5" y1="366.2" x2="304" y2="366.2" stroke="#707070" stroke-width="0.9"/>
<polygon points="302.2,364.9 302.2,367.5 305.2,366.2" fill="#707070"/>
<line x1="183.0" y1="288.7" x2="185.5" y2="288.7" stroke="#707070" stroke-width="0.6"/>
<text x="178.2" y="288.7" font-size="4.1" text-anchor="middle" dominant-baseline="central" transform="rotate(-90 178.2 288.7)" fill="#333" stroke="#333" stroke-width="0.090" >1.0</text>
<line x1="183.0" y1="311.4" x2="185.5" y2="311.4" stroke="#707070" stroke-width="0.6"/>
<text x="178.2" y="311.4" font-size="4.1" text-anchor="middle" dominant-baseline="central" transform="rotate(-90 178.2 311.4)" fill="#333" stroke="#333" stroke-width="0.090" >0.5</text>
<line x1="183.0" y1="334" x2="185.5" y2="334" stroke="#707070" stroke-width="0.6"/>
<text x="178.2" y="334" font-size="4.1" text-anchor="middle" dominant-baseline="central" transform="rotate(-90 178.2 334)" fill="#333" stroke="#333" stroke-width="0.090" >0.0</text>
<line x1="183.0" y1="356.5" x2="185.5" y2="356.5" stroke="#707070" stroke-width="0.6"/>
<text x="178.2" y="356.5" font-size="4.1" text-anchor="middle" dominant-baseline="central" transform="rotate(-90 178.2 356.5)" fill="#333" stroke="#333" stroke-width="0.090" >-0.5</text>
<line x1="184.0" y1="300.04999999999995" x2="185.5" y2="300.04999999999995" stroke="#707070" stroke-width="0.5"/>
<line x1="184.0" y1="322.7" x2="185.5" y2="322.7" stroke="#707070" stroke-width="0.5"/>
<line x1="184.0" y1="345.25" x2="185.5" y2="345.25" stroke="#707070" stroke-width="0.5"/>
<line x1="190.5" y1="366.2" x2="190.5" y2="368.4" stroke="#707070" stroke-width="0.6"/>
<text x="190.5" y="373.2" font-size="4.3" text-anchor="middle" dominant-baseline="central" fill="#222" stroke="#222" stroke-width="0.095" >0.0</text>
<line x1="201.55" y1="366.2" x2="201.55" y2="367.5" stroke="#707070" stroke-width="0.5"/>
<line x1="212.6" y1="366.2" x2="212.6" y2="368.4" stroke="#707070" stroke-width="0.6"/>
<text x="212.6" y="373.2" font-size="4.3" text-anchor="middle" dominant-baseline="central" fill="#222" stroke="#222" stroke-width="0.095" >0.2</text>
<line x1="223.65" y1="366.2" x2="223.65" y2="367.5" stroke="#707070" stroke-width="0.5"/>
<line x1="234.7" y1="366.2" x2="234.7" y2="368.4" stroke="#707070" stroke-width="0.6"/>
<text x="234.7" y="373.2" font-size="4.3" text-anchor="middle" dominant-baseline="central" fill="#222" stroke="#222" stroke-width="0.095" >0.4</text>
<line x1="245.75" y1="366.2" x2="245.75" y2="367.5" stroke="#707070" stroke-width="0.5"/>
<line x1="256.8" y1="366.2" x2="256.8" y2="368.4" stroke="#707070" stroke-width="0.6"/>
<text x="256.8" y="373.2" font-size="4.3" text-anchor="middle" dominant-baseline="central" fill="#222" stroke="#222" stroke-width="0.095" >0.6</text>
<line x1="267.85" y1="366.2" x2="267.85" y2="367.5" stroke="#707070" stroke-width="0.5"/>
<line x1="278.9" y1="366.2" x2="278.9" y2="368.4" stroke="#707070" stroke-width="0.6"/>
<text x="278.9" y="373.2" font-size="4.3" text-anchor="middle" dominant-baseline="central" fill="#222" stroke="#222" stroke-width="0.095" >0.8</text>
<line x1="289.95" y1="366.2" x2="289.95" y2="367.5" stroke="#707070" stroke-width="0.5"/>
<line x1="301.0" y1="366.2" x2="301.0" y2="368.4" stroke="#707070" stroke-width="0.6"/>
<text x="301.0" y="373.2" font-size="4.3" text-anchor="middle" dominant-baseline="central" fill="#222" stroke="#222" stroke-width="0.095" >1.0</text>
<circle cx="194.70" cy="297.10" r="1.60" fill="#5aae35" stroke="#3f8a22" stroke-width="0.3"/>
<circle cx="199.50" cy="295.20" r="1.60" fill="#5aae35" stroke="#3f8a22" stroke-width="0.3"/>
<circle cx="199.50" cy="297.80" r="1.60" fill="#5aae35" stroke="#3f8a22" stroke-width="0.3"/>
<circle cx="203.90" cy="295.20" r="1.60" fill="#5aae35" stroke="#3f8a22" stroke-width="0.3"/>
<circle cx="203.90" cy="297.80" r="1.60" fill="#5aae35" stroke="#3f8a22" stroke-width="0.3"/>
<circle cx="208.70" cy="294.60" r="1.60" fill="#5aae35" stroke="#3f8a22" stroke-width="0.3"/>
<circle cx="208.70" cy="296.50" r="1.60" fill="#5aae35" stroke="#3f8a22" stroke-width="0.3"/>
<circle cx="208.70" cy="298.40" r="1.60" fill="#5aae35" stroke="#3f8a22" stroke-width="0.3"/>
<circle cx="212.90" cy="294.30" r="1.60" fill="#5aae35" stroke="#3f8a22" stroke-width="0.3"/>
<circle cx="212.90" cy="297.20" r="1.60" fill="#5aae35" stroke="#3f8a22" stroke-width="0.3"/>
<circle cx="217.70" cy="295.80" r="1.60" fill="#5aae35" stroke="#3f8a22" stroke-width="0.3"/>
<circle cx="217.70" cy="298.40" r="1.60" fill="#5aae35" stroke="#3f8a22" stroke-width="0.3"/>
<circle cx="222.50" cy="294.30" r="1.60" fill="#5aae35" stroke="#3f8a22" stroke-width="0.3"/>
<circle cx="222.50" cy="296.70" r="1.60" fill="#5aae35" stroke="#3f8a22" stroke-width="0.3"/>
<circle cx="222.50" cy="299.10" r="1.60" fill="#5aae35" stroke="#3f8a22" stroke-width="0.3"/>
<circle cx="227.30" cy="293.90" r="1.60" fill="#5aae35" stroke="#3f8a22" stroke-width="0.3"/>
<circle cx="227.30" cy="295.55" r="1.60" fill="#5aae35" stroke="#3f8a22" stroke-width="0.3"/>
<circle cx="227.30" cy="297.20" r="1.60" fill="#5aae35" stroke="#3f8a22" stroke-width="0.3"/>
<circle cx="231.70" cy="295.20" r="1.60" fill="#5aae35" stroke="#3f8a22" stroke-width="0.3"/>
<circle cx="231.70" cy="296.80" r="1.60" fill="#5aae35" stroke="#3f8a22" stroke-width="0.3"/>
<circle cx="231.70" cy="298.40" r="1.60" fill="#5aae35" stroke="#3f8a22" stroke-width="0.3"/>
<circle cx="236.30" cy="295.80" r="1.60" fill="#5aae35" stroke="#3f8a22" stroke-width="0.3"/>
<circle cx="240.70" cy="293.90" r="1.60" fill="#5aae35" stroke="#3f8a22" stroke-width="0.3"/>
<circle cx="240.70" cy="299.10" r="1.60" fill="#5aae35" stroke="#3f8a22" stroke-width="0.3"/>
<circle cx="245.10" cy="299.10" r="1.60" fill="#5aae35" stroke="#3f8a22" stroke-width="0.3"/>
<rect x="193.69" y="337.53" width="2.8" height="2.8" fill="#1f3c8c"/>
<rect x="198.20" y="337.53" width="2.8" height="2.8" fill="#1f3c8c"/>
<rect x="198.20" y="348.15" width="2.8" height="2.8" fill="#1f3c8c"/>
<rect x="202.71" y="323.73" width="2.8" height="2.8" fill="#1f3c8c"/>
<rect x="202.71" y="326.38" width="2.8" height="2.8" fill="#1f3c8c"/>
<rect x="202.71" y="330.37" width="2.8" height="2.8" fill="#1f3c8c"/>
<rect x="202.71" y="333.82" width="2.8" height="2.8" fill="#1f3c8c"/>
<rect x="202.71" y="337.00" width="2.8" height="2.8" fill="#1f3c8c"/>
<rect x="202.71" y="340.98" width="2.8" height="2.8" fill="#1f3c8c"/>
<rect x="202.71" y="343.64" width="2.8" height="2.8" fill="#1f3c8c"/>
<rect x="202.71" y="349.74" width="2.8" height="2.8" fill="#1f3c8c"/>
<rect x="202.71" y="354.26" width="2.8" height="2.8" fill="#1f3c8c"/>
<rect x="206.96" y="327.71" width="2.8" height="2.8" fill="#1f3c8c"/>
<rect x="206.96" y="331.69" width="2.8" height="2.8" fill="#1f3c8c"/>
<rect x="206.96" y="335.67" width="2.8" height="2.8" fill="#1f3c8c"/>
<rect x="206.96" y="338.33" width="2.8" height="2.8" fill="#1f3c8c"/>
<rect x="206.96" y="340.98" width="2.8" height="2.8" fill="#1f3c8c"/>
<rect x="206.96" y="343.64" width="2.8" height="2.8" fill="#1f3c8c"/>
<rect x="206.96" y="350.81" width="2.8" height="2.8" fill="#1f3c8c"/>
<rect x="206.96" y="356.91" width="2.8" height="2.8" fill="#1f3c8c"/>
<rect x="211.47" y="321.07" width="2.8" height="2.8" fill="#1f3c8c"/>
<rect x="211.47" y="325.06" width="2.8" height="2.8" fill="#1f3c8c"/>
<rect x="211.47" y="329.04" width="2.8" height="2.8" fill="#1f3c8c"/>
<rect x="211.47" y="333.02" width="2.8" height="2.8" fill="#1f3c8c"/>
<rect x="211.47" y="335.67" width="2.8" height="2.8" fill="#1f3c8c"/>
<rect x="211.47" y="338.33" width="2.8" height="2.8" fill="#1f3c8c"/>
<rect x="211.47" y="342.31" width="2.8" height="2.8" fill="#1f3c8c"/>
<rect x="211.47" y="350.28" width="2.8" height="2.8" fill="#1f3c8c"/>
<rect x="211.47" y="352.93" width="2.8" height="2.8" fill="#1f3c8c"/>
<rect x="215.99" y="318.95" width="2.8" height="2.8" fill="#1f3c8c"/>
<rect x="215.99" y="326.38" width="2.8" height="2.8" fill="#1f3c8c"/>
<rect x="215.99" y="330.37" width="2.8" height="2.8" fill="#1f3c8c"/>
<rect x="215.99" y="334.35" width="2.8" height="2.8" fill="#1f3c8c"/>
<rect x="215.99" y="339.66" width="2.8" height="2.8" fill="#1f3c8c"/>
<rect x="215.99" y="344.43" width="2.8" height="2.8" fill="#1f3c8c"/>
<rect x="215.99" y="348.95" width="2.8" height="2.8" fill="#1f3c8c"/>
<rect x="215.99" y="359.57" width="2.8" height="2.8" fill="#1f3c8c"/>
<rect x="220.76" y="329.04" width="2.8" height="2.8" fill="#1f3c8c"/>
<rect x="220.76" y="335.67" width="2.8" height="2.8" fill="#1f3c8c"/>
<rect x="220.76" y="338.33" width="2.8" height="2.8" fill="#1f3c8c"/>
<rect x="220.76" y="340.98" width="2.8" height="2.8" fill="#1f3c8c"/>
<rect x="220.76" y="344.43" width="2.8" height="2.8" fill="#1f3c8c"/>
<rect x="220.76" y="347.62" width="2.8" height="2.8" fill="#1f3c8c"/>
<rect x="220.76" y="351.60" width="2.8" height="2.8" fill="#1f3c8c"/>
<rect x="220.76" y="360.89" width="2.8" height="2.8" fill="#1f3c8c"/>
<rect x="225.54" y="333.02" width="2.8" height="2.8" fill="#1f3c8c"/>
<rect x="225.54" y="337.00" width="2.8" height="2.8" fill="#1f3c8c"/>
<rect x="225.54" y="339.66" width="2.8" height="2.8" fill="#1f3c8c"/>
<rect x="225.54" y="343.64" width="2.8" height="2.8" fill="#1f3c8c"/>
<rect x="225.54" y="346.29" width="2.8" height="2.8" fill="#1f3c8c"/>
<rect x="225.54" y="348.95" width="2.8" height="2.8" fill="#1f3c8c"/>
<rect x="230.06" y="325.06" width="2.8" height="2.8" fill="#1f3c8c"/>
<rect x="230.06" y="330.37" width="2.8" height="2.8" fill="#1f3c8c"/>
<rect x="230.06" y="334.88" width="2.8" height="2.8" fill="#1f3c8c"/>
<rect x="230.06" y="338.33" width="2.8" height="2.8" fill="#1f3c8c"/>
<rect x="234.57" y="334.35" width="2.8" height="2.8" fill="#1f3c8c"/>
<rect x="234.57" y="340.19" width="2.8" height="2.8" fill="#1f3c8c"/>
<rect x="239.35" y="329.83" width="2.8" height="2.8" fill="#1f3c8c"/>
<rect x="239.35" y="340.19" width="2.8" height="2.8" fill="#1f3c8c"/>
<rect x="244.66" y="334.35" width="2.8" height="2.8" fill="#1f3c8c"/>
<line x1="190.5" y1="297.8" x2="300.4" y2="289.2" stroke="#222" stroke-width="0.8"/>
<line x1="190.5" y1="347.7" x2="300.4" y2="293.4" stroke="#222" stroke-width="0.8"/>
<circle cx="300.40" cy="289.20" r="1.50" fill="#5aae35"/>
<rect x="299.10" y="292.10" width="2.6" height="2.6" fill="#1f3c8c"/>
<text x="172.7" y="277.4" font-size="8.4" text-anchor="middle" dominant-baseline="central" fill="#222" stroke="#222" stroke-width="0.140" >Negtive</text>
<text x="245.3" y="278.5" font-size="4.65" text-anchor="middle" dominant-baseline="central" font-weight="bold" fill="#111" stroke="#111" stroke-width="0.102" >R2=(0.0, 0.81), Q2=(0.0, -0.29)</text>
<circle cx="313.50" cy="277.30" r="1.50" fill="#5aae35"/>
<rect x="312.20" y="281.60" width="2.6" height="2.6" fill="#1f3c8c"/>
<text x="317.5" y="277.3" font-size="4.6" text-anchor="start" dominant-baseline="central" fill="#222" stroke="#222" stroke-width="0.101" >R2</text>
<text x="317.5" y="282.9" font-size="4.6" text-anchor="start" dominant-baseline="central" fill="#222" stroke="#222" stroke-width="0.101" >Q2</text>
<text x="245.6" y="380.7" font-size="4.2" text-anchor="middle" dominant-baseline="central" fill="#333" stroke="#333" stroke-width="0.092" >Similarity(y, y<tspan font-size="2.9" font-weight="bold" dy="0.9">perm</tspan><tspan dy="-0.9">)</tspan></text>
<text x="245.1" y="388.5" font-size="9.2" text-anchor="middle" dominant-baseline="central" fill="#222" stroke="#222" stroke-width="0.140" >(f)</text>
<path d="M82.40,400.00 A57.00,57.00 0 0 1 119.04,413.34 L100.14,435.86 A27.60,27.60 0 0 0 82.40,429.40 Z" fill="#1e4ba5" stroke="#7c7c7c" stroke-width="0.4"/>
<path d="M119.04,413.34 A57.00,57.00 0 0 1 126.06,493.64 L103.54,474.74 A27.60,27.60 0 0 0 100.14,435.86 Z" fill="#64b932" stroke="#7c7c7c" stroke-width="0.4"/>
<path d="M126.06,493.64 A57.00,57.00 0 0 1 115.90,503.11 L98.62,479.33 A27.60,27.60 0 0 0 103.54,474.74 Z" fill="#e61e23" stroke="#7c7c7c" stroke-width="0.4"/>
<path d="M115.90,503.11 A57.00,57.00 0 0 1 44.26,499.36 L63.93,477.51 A27.60,27.60 0 0 0 98.62,479.33 Z" fill="#4d5aaa" stroke="#7c7c7c" stroke-width="0.4"/>
<path d="M44.26,499.36 A57.00,57.00 0 0 1 38.74,493.64 L61.26,474.74 A27.60,27.60 0 0 0 63.93,477.51 Z" fill="#a6a6a6" stroke="#7c7c7c" stroke-width="0.4"/>
<path d="M38.74,493.64 A57.00,57.00 0 0 1 26.18,447.59 L55.18,452.44 A27.60,27.60 0 0 0 61.26,474.74 Z" fill="#0f5f2d" stroke="#7c7c7c" stroke-width="0.4"/>
<path d="M26.18,447.59 A57.00,57.00 0 0 1 53.90,407.64 L68.60,433.10 A27.60,27.60 0 0 0 55.18,452.44 Z" fill="#e8e8e8" stroke="#7c7c7c" stroke-width="0.4"/>
<path d="M53.90,407.64 A57.00,57.00 0 0 1 81.60,400.01 L82.01,429.40 A27.60,27.60 0 0 0 68.60,433.10 Z" fill="#9b3ca5" stroke="#7c7c7c" stroke-width="0.4"/>
<path d="M81.60,400.01 A57.00,57.00 0 0 1 82.40,400.00 L82.40,429.40 A27.60,27.60 0 0 0 82.01,429.40 Z" fill="#e6d03a" stroke="#7c7c7c" stroke-width="0.4"/>
<text x="98.9" y="417.9" font-size="4.0" text-anchor="middle" dominant-baseline="central" fill="#2a2a2a" stroke="#2a2a2a" stroke-width="0.088" >48</text>
<text x="124.1" y="453.9" font-size="4.0" text-anchor="middle" dominant-baseline="central" fill="#2a2a2a" stroke="#2a2a2a" stroke-width="0.088" >113</text>
<text x="112.5" y="490.9" font-size="4.0" text-anchor="middle" dominant-baseline="central" fill="#2a2a2a" stroke="#2a2a2a" stroke-width="0.088" >18</text>
<text x="82.3" y="503.2" font-size="4.0" text-anchor="middle" dominant-baseline="central" fill="#2a2a2a" stroke="#2a2a2a" stroke-width="0.088" >101</text>
<text x="50.4" y="487.0" font-size="4.0" text-anchor="middle" dominant-baseline="central" fill="#2a2a2a" stroke="#2a2a2a" stroke-width="0.088" >10</text>
<text x="40.4" y="471.2" font-size="4.0" text-anchor="middle" dominant-baseline="central" fill="#2a2a2a" stroke="#2a2a2a" stroke-width="0.088" >67</text>
<text x="49.0" y="433.0" font-size="4.0" text-anchor="middle" dominant-baseline="central" fill="#2a2a2a" stroke="#2a2a2a" stroke-width="0.088" >63</text>
<text x="71.9" y="414.1" font-size="4.0" text-anchor="middle" dominant-baseline="central" fill="#2a2a2a" stroke="#2a2a2a" stroke-width="0.088" >37</text>
<defs><radialGradient id="fg" cx="0.35" cy="0.35" r="0.7"><stop offset="0" stop-color="#c8e070"/><stop offset="0.45" stop-color="#6a9a26"/><stop offset="1" stop-color="#2e4a10"/></radialGradient><radialGradient id="fr" cx="0.35" cy="0.35" r="0.7"><stop offset="0" stop-color="#e06068"/><stop offset="0.45" stop-color="#9c1420"/><stop offset="1" stop-color="#4a0810"/></radialGradient><radialGradient id="fo" cx="0.35" cy="0.35" r="0.7"><stop offset="0" stop-color="#f0a848"/><stop offset="0.45" stop-color="#b8561c"/><stop offset="1" stop-color="#5e2210"/></radialGradient><radialGradient id="fp" cx="0.35" cy="0.35" r="0.7"><stop offset="0" stop-color="#a04858"/><stop offset="0.45" stop-color="#520a1e"/><stop offset="1" stop-color="#22040c"/></radialGradient><linearGradient id="cbar" x1="0" y1="0" x2="0" y2="1"><stop offset="0" stop-color="#e41a1c"/><stop offset="0.45" stop-color="#f28c1e"/><stop offset="1" stop-color="#f8f01e"/></linearGradient></defs>
<ellipse cx="68.30" cy="452.40" rx="6.8" ry="1.4" fill="#000" opacity="0.12"/>
<circle cx="63.80" cy="444.30" r="2.20" fill="url(#fg)"/>
<circle cx="67.70" cy="444.30" r="2.20" fill="url(#fg)"/>
<circle cx="71.60" cy="444.30" r="2.20" fill="url(#fg)"/>
<circle cx="63.80" cy="450.00" r="2.20" fill="url(#fg)"/>
<circle cx="67.70" cy="450.00" r="2.20" fill="url(#fg)"/>
<circle cx="71.60" cy="450.00" r="2.20" fill="url(#fg)"/>
<ellipse cx="98.40" cy="452.80" rx="6.8" ry="1.4" fill="#000" opacity="0.12"/>
<circle cx="94.00" cy="444.80" r="2.20" fill="url(#fr)"/>
<circle cx="97.80" cy="444.80" r="2.20" fill="url(#fr)"/>
<circle cx="101.60" cy="444.80" r="2.20" fill="url(#fr)"/>
<circle cx="94.00" cy="450.40" r="2.20" fill="url(#fr)"/>
<circle cx="97.80" cy="450.40" r="2.20" fill="url(#fr)"/>
<circle cx="101.60" cy="450.40" r="2.20" fill="url(#fr)"/>
<ellipse cx="68.60" cy="469.80" rx="6.8" ry="1.4" fill="#000" opacity="0.12"/>
<circle cx="64.00" cy="461.90" r="2.20" fill="url(#fo)"/>
<circle cx="68.00" cy="461.90" r="2.20" fill="url(#fo)"/>
<circle cx="72.00" cy="461.90" r="2.20" fill="url(#fo)"/>
<circle cx="64.00" cy="467.40" r="2.20" fill="url(#fo)"/>
<circle cx="68.00" cy="467.40" r="2.20" fill="url(#fo)"/>
<circle cx="72.00" cy="467.40" r="2.20" fill="url(#fo)"/>
<ellipse cx="96.80" cy="469.80" rx="6.8" ry="1.4" fill="#000" opacity="0.12"/>
<circle cx="92.00" cy="462.40" r="2.20" fill="url(#fp)"/>
<circle cx="96.20" cy="462.40" r="2.20" fill="url(#fp)"/>
<circle cx="100.40" cy="462.40" r="2.20" fill="url(#fp)"/>
<circle cx="92.00" cy="467.40" r="2.20" fill="url(#fp)"/>
<circle cx="96.20" cy="467.40" r="2.20" fill="url(#fp)"/>
<circle cx="100.40" cy="467.40" r="2.20" fill="url(#fp)"/>
<text x="18.3" y="509.3" font-size="4.4" text-anchor="start" dominant-baseline="central" fill="#222" stroke="#222" stroke-width="0.097" >Total=456</text>
<rect x="16.6" y="515.00" width="6.6" height="2.6" fill="#e6e03a" stroke="#999" stroke-width="0.2"/>
<text x="26.3" y="516.3" font-size="4.4" text-anchor="start" dominant-baseline="central" fill="#222" stroke="#222" stroke-width="0.097" >Alkaloids and derivatives</text>
<rect x="16.6" y="518.75" width="6.6" height="2.6" fill="#64c832" stroke="#999" stroke-width="0.2"/>
<text x="26.3" y="520.05" font-size="4.4" text-anchor="start" dominant-baseline="central" fill="#222" stroke="#222" stroke-width="0.097" >Lipids and lipid-like molecules</text>
<rect x="16.6" y="522.50" width="6.6" height="2.6" fill="#4b5ab4" stroke="#999" stroke-width="0.2"/>
<text x="26.3" y="523.8" font-size="4.4" text-anchor="start" dominant-baseline="central" fill="#222" stroke="#222" stroke-width="0.097" >Organic acids and derivatives</text>
<rect x="16.6" y="526.25" width="6.6" height="2.6" fill="#e0e0e0" stroke="#999" stroke-width="0.2"/>
<text x="26.3" y="527.55" font-size="4.4" text-anchor="start" dominant-baseline="central" fill="#222" stroke="#222" stroke-width="0.097" >Organoheterocyclic compounds</text>
<rect x="16.6" y="530.00" width="6.6" height="2.6" fill="#9b2aa5" stroke="#999" stroke-width="0.2"/>
<text x="26.3" y="531.3" font-size="4.4" text-anchor="start" dominant-baseline="central" fill="#222" stroke="#222" stroke-width="0.097" >Phenylpropanoids and polyketides</text>
<rect x="85.3" y="516.30" width="6.2" height="2.6" fill="#1e4ba5"/>
<text x="94.0" y="517.6" font-size="4.45" text-anchor="start" dominant-baseline="central" fill="#222" stroke="#222" stroke-width="0.098" >Benzenoids</text>
<rect x="85.3" y="520.20" width="6.2" height="2.6" fill="#e61e23"/>
<text x="94.0" y="521.5" font-size="4.45" text-anchor="start" dominant-baseline="central" fill="#222" stroke="#222" stroke-width="0.098" >Nucleosides, nucleotides, analogues</text>
<rect x="85.3" y="524.10" width="6.2" height="2.6" fill="#a6a6a6"/>
<text x="94.0" y="525.4" font-size="4.45" text-anchor="start" dominant-baseline="central" fill="#222" stroke="#222" stroke-width="0.098" >Organic nitrogen compounds</text>
<rect x="85.3" y="528.00" width="6.2" height="2.6" fill="#0f5f2d"/>
<text x="94.0" y="529.3000000000001" font-size="4.45" text-anchor="start" dominant-baseline="central" fill="#222" stroke="#222" stroke-width="0.098" >Organic oxygen compounds</text>
<text x="79.6" y="541.6" font-size="9.2" text-anchor="middle" dominant-baseline="central" fill="#222" stroke="#222" stroke-width="0.140" >(g)</text>
<rect x="166.5" y="393.7" width="128.8" height="134.3" fill="#fff"/>
<line x1="166.5" y1="413.2" x2="295.3" y2="413.2" stroke="#ebebeb" stroke-width="0.5"/>
<line x1="166.5" y1="449.2" x2="295.3" y2="449.2" stroke="#ebebeb" stroke-width="0.5"/>
<line x1="166.5" y1="485.3" x2="295.3" y2="485.3" stroke="#ebebeb" stroke-width="0.5"/>
<line x1="166.5" y1="521.4" x2="295.3" y2="521.4" stroke="#ebebeb" stroke-width="0.5"/>
<line x1="166.5" y1="431.2" x2="295.3" y2="431.2" stroke="#f2f2f2" stroke-width="0.4"/>
<line x1="166.5" y1="467.2" x2="295.3" y2="467.2" stroke="#f2f2f2" stroke-width="0.4"/>
<line x1="166.5" y1="503.3" x2="295.3" y2="503.3" stroke="#f2f2f2" stroke-width="0.4"/>
<line x1="171.8" y1="393.7" x2="171.8" y2="528.0" stroke="#ededed" stroke-width="0.5"/>
<line x1="204.5" y1="393.7" x2="204.5" y2="528.0" stroke="#ededed" stroke-width="0.5"/>
<line x1="226.7" y1="393.7" x2="226.7" y2="528.0" stroke="#ededed" stroke-width="0.5"/>
<line x1="260.1" y1="393.7" x2="260.1" y2="528.0" stroke="#ededed" stroke-width="0.5"/>
<line x1="281.4" y1="393.7" x2="281.4" y2="528.0" stroke="#ededed" stroke-width="0.5"/>
<line x1="188.1" y1="393.7" x2="188.1" y2="528.0" stroke="#f2f2f2" stroke-width="0.4"/>
<line x1="215.6" y1="393.7" x2="215.6" y2="528.0" stroke="#f2f2f2" stroke-width="0.4"/>
<line x1="243.4" y1="393.7" x2="243.4" y2="528.0" stroke="#f2f2f2" stroke-width="0.4"/>
<line x1="270.7" y1="393.7" x2="270.7" y2="528.0" stroke="#f2f2f2" stroke-width="0.4"/>
<line x1="291" y1="393.7" x2="291" y2="528.0" stroke="#f2f2f2" stroke-width="0.4"/>
<rect x="166.5" y="393.7" width="128.8" height="134.3" fill="none" stroke="#bcbcbc" stroke-width="0.9"/>
<line x1="165.3" y1="413.3" x2="166.5" y2="413.3" stroke="#555" stroke-width="0.4"/>
<text x="164.6" y="413.3" font-size="4.2" text-anchor="middle" dominant-baseline="central" fill="#333" stroke="#333" stroke-width="0.092" >3</text>
<line x1="165.3" y1="449.2" x2="166.5" y2="449.2" stroke="#555" stroke-width="0.4"/>
<text x="164.6" y="449.2" font-size="4.2" text-anchor="middle" dominant-baseline="central" fill="#333" stroke="#333" stroke-width="0.092" >2</text>
<line x1="165.3" y1="485.4" x2="166.5" y2="485.4" stroke="#555" stroke-width="0.4"/>
<text x="164.6" y="485.4" font-size="4.2" text-anchor="middle" dominant-baseline="central" fill="#333" stroke="#333" stroke-width="0.092" >1</text>
<line x1="165.3" y1="521.5" x2="166.5" y2="521.5" stroke="#555" stroke-width="0.4"/>
<text x="164.6" y="521.5" font-size="4.2" text-anchor="middle" dominant-baseline="central" fill="#333" stroke="#333" stroke-width="0.092" >0</text>
<line x1="171.8" y1="528.0" x2="171.8" y2="529.2" stroke="#555" stroke-width="0.4"/>
<text x="171.8" y="531.2" font-size="4.2" text-anchor="middle" dominant-baseline="central" fill="#333" stroke="#333" stroke-width="0.092" >0.0</text>
<line x1="204.5" y1="528.0" x2="204.5" y2="529.2" stroke="#555" stroke-width="0.4"/>
<text x="204.5" y="531.2" font-size="4.2" text-anchor="middle" dominant-baseline="central" fill="#333" stroke="#333" stroke-width="0.092" >0.1</text>
<line x1="226.7" y1="528.0" x2="226.7" y2="529.2" stroke="#555" stroke-width="0.4"/>
<text x="226.7" y="531.2" font-size="4.2" text-anchor="middle" dominant-baseline="central" fill="#333" stroke="#333" stroke-width="0.092" >0.2</text>
<line x1="260.1" y1="528.0" x2="260.1" y2="529.2" stroke="#555" stroke-width="0.4"/>
<text x="260.1" y="531.2" font-size="4.2" text-anchor="middle" dominant-baseline="central" fill="#333" stroke="#333" stroke-width="0.092" >0.3</text>
<line x1="281.4" y1="528.0" x2="281.4" y2="529.2" stroke="#555" stroke-width="0.4"/>
<text x="281.4" y="531.2" font-size="4.2" text-anchor="middle" dominant-baseline="central" fill="#333" stroke="#333" stroke-width="0.092" >0.4</text>
<text x="230.8" y="534.8" font-size="4.2" text-anchor="middle" dominant-baseline="central" fill="#333" stroke="#333" stroke-width="0.092" >Impact</text>
<text x="231.5" y="542.6" font-size="9.2" text-anchor="middle" dominant-baseline="central" fill="#222" stroke="#222" stroke-width="0.140" >(h)</text>
<text x="160.2" y="460.8" font-size="4.3" text-anchor="middle" dominant-baseline="central" transform="rotate(-90 160.2 460.8)" fill="#333" stroke="#333" stroke-width="0.095" >-log10(Pvalue)</text>
<text x="171.8" y="520.3" font-size="3.8" text-anchor="start" dominant-baseline="central" fill="#333" stroke="#333" stroke-width="0.084" >Aminoacyl</text>
<circle cx="289.40" cy="399.80" r="3.90" fill="#e41818" stroke="#5a4a20" stroke-width="0.3"/>
<circle cx="287.30" cy="498.00" r="3.90" fill="#f6d31f" stroke="#5a4a20" stroke-width="0.3"/>
<circle cx="269.30" cy="469.50" r="3.60" fill="#f2aa1e" stroke="#5a4a20" stroke-width="0.3"/>
<circle cx="282.10" cy="485.00" r="3.60" fill="#f4c31f" stroke="#5a4a20" stroke-width="0.3"/>
<circle cx="273.80" cy="448.10" r="3.50" fill="#ef871b" stroke="#5a4a20" stroke-width="0.3"/>
<circle cx="270.90" cy="468.40" r="3.30" fill="#f2a81e" stroke="#5a4a20" stroke-width="0.3"/>
<circle cx="264.50" cy="490.70" r="3.25" fill="#f5ca1f" stroke="#5a4a20" stroke-width="0.3"/>
<circle cx="262.70" cy="456.60" r="3.20" fill="#f1951c" stroke="#5a4a20" stroke-width="0.3"/>
<circle cx="262.70" cy="475.60" r="3.10" fill="#f3b41e" stroke="#5a4a20" stroke-width="0.3"/>
<circle cx="249.70" cy="484.30" r="3.10" fill="#f4c21f" stroke="#5a4a20" stroke-width="0.3"/>
<circle cx="246.90" cy="439.10" r="3.00" fill="#ec711b" stroke="#5a4a20" stroke-width="0.3"/>
<circle cx="243.50" cy="472.60" r="3.00" fill="#f3af1e" stroke="#5a4a20" stroke-width="0.3"/>
<circle cx="238.20" cy="412.50" r="2.90" fill="#e23219" stroke="#5a4a20" stroke-width="0.3"/>
<circle cx="230.50" cy="492.80" r="2.80" fill="#f5cd1f" stroke="#5a4a20" stroke-width="0.3"/>
<circle cx="225.80" cy="472.10" r="2.75" fill="#f3ae1e" stroke="#5a4a20" stroke-width="0.3"/>
<circle cx="228.70" cy="438.80" r="2.60" fill="#eb701b" stroke="#5a4a20" stroke-width="0.3"/>
<circle cx="227.30" cy="449.50" r="2.60" fill="#f08a1c" stroke="#5a4a20" stroke-width="0.3"/>
<circle cx="224.00" cy="496.50" r="2.60" fill="#f5d11f" stroke="#5a4a20" stroke-width="0.3"/>
<circle cx="219.00" cy="408.60" r="2.50" fill="#e22719" stroke="#5a4a20" stroke-width="0.3"/>
<circle cx="222.10" cy="480.30" r="2.50" fill="#f4bb1f" stroke="#5a4a20" stroke-width="0.3"/>
<circle cx="222.50" cy="506.00" r="2.50" fill="#f6dd1e" stroke="#5a4a20" stroke-width="0.3"/>
<circle cx="216.20" cy="479.30" r="2.52" fill="#f4ba1f" stroke="#5a4a20" stroke-width="0.3"/>
<circle cx="216.60" cy="482.30" r="2.52" fill="#f4bf1f" stroke="#5a4a20" stroke-width="0.3"/>
<circle cx="217.60" cy="487.70" r="2.52" fill="#f5c61f" stroke="#5a4a20" stroke-width="0.3"/>
<circle cx="218.20" cy="491.00" r="2.52" fill="#f5ca1f" stroke="#5a4a20" stroke-width="0.3"/>
<circle cx="217.60" cy="495.50" r="2.52" fill="#f5d01f" stroke="#5a4a20" stroke-width="0.3"/>
<circle cx="212.70" cy="507.60" r="2.52" fill="#f6df1e" stroke="#5a4a20" stroke-width="0.3"/>
<circle cx="215.60" cy="509.50" r="2.52" fill="#f7e11e" stroke="#5a4a20" stroke-width="0.3"/>
<circle cx="218.20" cy="506.60" r="2.52" fill="#f6dd1e" stroke="#5a4a20" stroke-width="0.3"/>
<circle cx="212.30" cy="512.40" r="2.52" fill="#f7e51e" stroke="#5a4a20" stroke-width="0.3"/>
<circle cx="213.20" cy="512.70" r="2.52" fill="#f7e51e" stroke="#5a4a20" stroke-width="0.3"/>
<circle cx="206.50" cy="468.20" r="2.24" fill="#f2a81e" stroke="#5a4a20" stroke-width="0.3"/>
<circle cx="205.00" cy="513.40" r="2.24" fill="#f7e61e" stroke="#5a4a20" stroke-width="0.3"/>
<circle cx="210.20" cy="509.70" r="2.24" fill="#f7e11e" stroke="#5a4a20" stroke-width="0.3"/>
<circle cx="205.10" cy="513.90" r="2.24" fill="#f7e61e" stroke="#5a4a20" stroke-width="0.3"/>
<circle cx="201.00" cy="496.30" r="2.13" fill="#f5d11f" stroke="#5a4a20" stroke-width="0.3"/>
<circle cx="201.00" cy="499.80" r="2.13" fill="#f6d51f" stroke="#5a4a20" stroke-width="0.3"/>
<circle cx="196.80" cy="502.70" r="2.13" fill="#f6d91f" stroke="#5a4a20" stroke-width="0.3"/>
<circle cx="199.10" cy="507.60" r="2.13" fill="#f6df1e" stroke="#5a4a20" stroke-width="0.3"/>
<circle cx="202.00" cy="508.50" r="2.13" fill="#f6e01e" stroke="#5a4a20" stroke-width="0.3"/>
<circle cx="197.20" cy="513.00" r="2.02" fill="#f7e51e" stroke="#5a4a20" stroke-width="0.3"/>
<circle cx="192.30" cy="513.00" r="2.02" fill="#f7e51e" stroke="#5a4a20" stroke-width="0.3"/>
<circle cx="204.00" cy="509.70" r="1.96" fill="#f7e11e" stroke="#5a4a20" stroke-width="0.3"/>
<circle cx="191.10" cy="513.00" r="1.96" fill="#f7e51e" stroke="#5a4a20" stroke-width="0.3"/>
<circle cx="197.70" cy="512.70" r="1.96" fill="#f7e51e" stroke="#5a4a20" stroke-width="0.3"/>
<circle cx="190.30" cy="520.10" r="1.96" fill="#f7ee1e" stroke="#5a4a20" stroke-width="0.3"/>
<circle cx="197.70" cy="519.30" r="1.96" fill="#f7ed1e" stroke="#5a4a20" stroke-width="0.3"/>
<circle cx="197.70" cy="522.30" r="1.96" fill="#f8f11d" stroke="#5a4a20" stroke-width="0.3"/>
<circle cx="200.70" cy="517.90" r="1.96" fill="#f7eb1e" stroke="#5a4a20" stroke-width="0.3"/>
<circle cx="201.40" cy="521.30" r="1.96" fill="#f7ef1e" stroke="#5a4a20" stroke-width="0.3"/>
<circle cx="192.50" cy="522.30" r="1.90" fill="#f8f11d" stroke="#5a4a20" stroke-width="0.3"/>
<circle cx="194.80" cy="520.60" r="1.90" fill="#f7ef1e" stroke="#5a4a20" stroke-width="0.3"/>
<circle cx="185.90" cy="518.60" r="1.68" fill="#f7ec1e" stroke="#5a4a20" stroke-width="0.3"/>
<circle cx="188.20" cy="520.60" r="1.68" fill="#f7ef1e" stroke="#5a4a20" stroke-width="0.3"/>
<circle cx="186.50" cy="521.80" r="1.68" fill="#f8f01d" stroke="#5a4a20" stroke-width="0.3"/>
<circle cx="178.50" cy="520.80" r="1.57" fill="#f7ef1e" stroke="#5a4a20" stroke-width="0.3"/>
<circle cx="181.00" cy="519.50" r="1.57" fill="#f7ed1e" stroke="#5a4a20" stroke-width="0.3"/>
<circle cx="183.40" cy="520.80" r="1.57" fill="#f7ef1e" stroke="#5a4a20" stroke-width="0.3"/>
<circle cx="182.50" cy="512.40" r="1.46" fill="#f7e51e" stroke="#5a4a20" stroke-width="0.3"/>
<circle cx="181.60" cy="517.00" r="1.46" fill="#f7ea1e" stroke="#5a4a20" stroke-width="0.3"/>
<circle cx="174.10" cy="520.00" r="1.46" fill="#f7ee1e" stroke="#5a4a20" stroke-width="0.3"/>
<circle cx="176.30" cy="519.30" r="1.46" fill="#f7ed1e" stroke="#5a4a20" stroke-width="0.3"/>
<circle cx="180.00" cy="521.80" r="1.46" fill="#f8f01d" stroke="#5a4a20" stroke-width="0.3"/>
<circle cx="178.70" cy="513.40" r="1.34" fill="#f7e61e" stroke="#5a4a20" stroke-width="0.3"/>
<circle cx="177.70" cy="517.70" r="1.34" fill="#f7eb1e" stroke="#5a4a20" stroke-width="0.3"/>
<circle cx="172.80" cy="521.20" r="1.34" fill="#f7ef1e" stroke="#5a4a20" stroke-width="0.3"/>
<text x="195.6" y="402.3" font-size="4.2" text-anchor="start" dominant-baseline="central" fill="#4a4a4a" stroke="#4a4a4a" stroke-width="0.092" stroke-opacity="0.2">ABC transporters</text>
<text x="242.1" y="398.5" font-size="4.2" text-anchor="start" dominant-baseline="central" fill="#4a4a4a" stroke="#4a4a4a" stroke-width="0.092" stroke-opacity="0.2">Linoleic acid metabolism</text>
<text x="223.4" y="418.3" font-size="4.2" text-anchor="start" dominant-baseline="central" fill="#4a4a4a" stroke="#4a4a4a" stroke-width="0.092" stroke-opacity="0.2">Lysine degradation</text>
<text x="195.6" y="434.9" font-size="4.2" text-anchor="start" dominant-baseline="central" fill="#4a4a4a" stroke="#4a4a4a" stroke-width="0.092" stroke-opacity="0.2">Phenylalanine metabolism</text>
<text x="243.6" y="434.5" font-size="4.2" text-anchor="start" dominant-baseline="central" fill="#4a4a4a" stroke="#4a4a4a" stroke-width="0.092" stroke-opacity="0.2">beta-Alanine metabolism</text>
<text x="171.8" y="445.2" font-size="4.2" text-anchor="start" dominant-baseline="central" fill="#4a4a4a" stroke="#4a4a4a" stroke-width="0.092" stroke-opacity="0.2">Glycine, serine and threonine metabolism</text>
<text x="259.2" y="443.2" font-size="4.2" text-anchor="start" dominant-baseline="central" fill="#4a4a4a" stroke="#4a4a4a" stroke-width="0.092" stroke-opacity="0.2">Lysine biosynthesis</text>
<text x="235.5" y="451.8" font-size="4.2" text-anchor="start" dominant-baseline="central" fill="#4a4a4a" stroke="#4a4a4a" stroke-width="0.092" stroke-opacity="0.2">Plant hormone signal transduction</text>
<text x="176.1" y="462.8" font-size="4.2" text-anchor="start" dominant-baseline="central" fill="#4a4a4a" stroke="#4a4a4a" stroke-width="0.092" stroke-opacity="0.2">Phenylpropanoid biosynthesis</text>
<text x="238.7" y="463.3" font-size="4.2" text-anchor="start" dominant-baseline="central" fill="#4a4a4a" stroke="#4a4a4a" stroke-width="0.092" stroke-opacity="0.2">alpha-Linolenic acid metabolism</text>
<text x="219.0" y="467.8" font-size="4.2" text-anchor="start" dominant-baseline="central" fill="#4a4a4a" stroke="#4a4a4a" stroke-width="0.092" stroke-opacity="0.2">Galactose metabolism</text>
<text x="171.8" y="474.5" font-size="4.2" text-anchor="start" dominant-baseline="central" fill="#4a4a4a" stroke="#4a4a4a" stroke-width="0.092" stroke-opacity="0.2">Pantothenate and CoA biosynthesis</text>
<text x="249.7" y="478.1" font-size="4.2" text-anchor="start" dominant-baseline="central" fill="#4a4a4a" stroke="#4a4a4a" stroke-width="0.092" stroke-opacity="0.2">Pyrimidine metabolism</text>
<text x="300.6" y="429.5" font-size="4.3" text-anchor="start" dominant-baseline="central" fill="#222" stroke="#222" stroke-width="0.095" >Impact</text>
<circle cx="304.90" cy="434.90" r="1.60" fill="#fff" stroke="#444" stroke-width="0.35"/>
<text x="311.5" y="434.9" font-size="4.2" text-anchor="start" dominant-baseline="central" fill="#333" stroke="#333" stroke-width="0.092" >0.1</text>
<circle cx="304.90" cy="440.70" r="2.55" fill="#fff" stroke="#444" stroke-width="0.35"/>
<text x="311.5" y="440.7" font-size="4.2" text-anchor="start" dominant-baseline="central" fill="#333" stroke="#333" stroke-width="0.092" >0.2</text>
<circle cx="304.90" cy="448.40" r="3.30" fill="#fff" stroke="#444" stroke-width="0.35"/>
<text x="311.5" y="448.4" font-size="4.2" text-anchor="start" dominant-baseline="central" fill="#333" stroke="#333" stroke-width="0.092" >0.3</text>
<circle cx="304.90" cy="457.60" r="4.00" fill="#fff" stroke="#444" stroke-width="0.35"/>
<text x="311.5" y="457.6" font-size="4.2" text-anchor="start" dominant-baseline="central" fill="#333" stroke="#333" stroke-width="0.092" >0.4</text>
<text x="297.6" y="470.2" font-size="4.3" text-anchor="start" dominant-baseline="central" fill="#222" stroke="#222" stroke-width="0.095" >-log10(Pvalue)</text>
<rect x="300.6" y="473.9" width="3.9" height="20.4" fill="url(#cbar)"/>
<text x="306.8" y="475.3" font-size="4.0" text-anchor="start" dominant-baseline="central" fill="#333" stroke="#333" stroke-width="0.088" >3</text>
<text x="306.8" y="481.9" font-size="4.0" text-anchor="start" dominant-baseline="central" fill="#333" stroke="#333" stroke-width="0.088" >2</text>
<text x="306.8" y="487.7" font-size="4.0" text-anchor="start" dominant-baseline="central" fill="#333" stroke="#333" stroke-width="0.088" >1</text>
<text x="306.8" y="493.5" font-size="4.0" text-anchor="start" dominant-baseline="central" fill="#333" stroke="#333" stroke-width="0.088" >0</text>
</svg></body></html>
